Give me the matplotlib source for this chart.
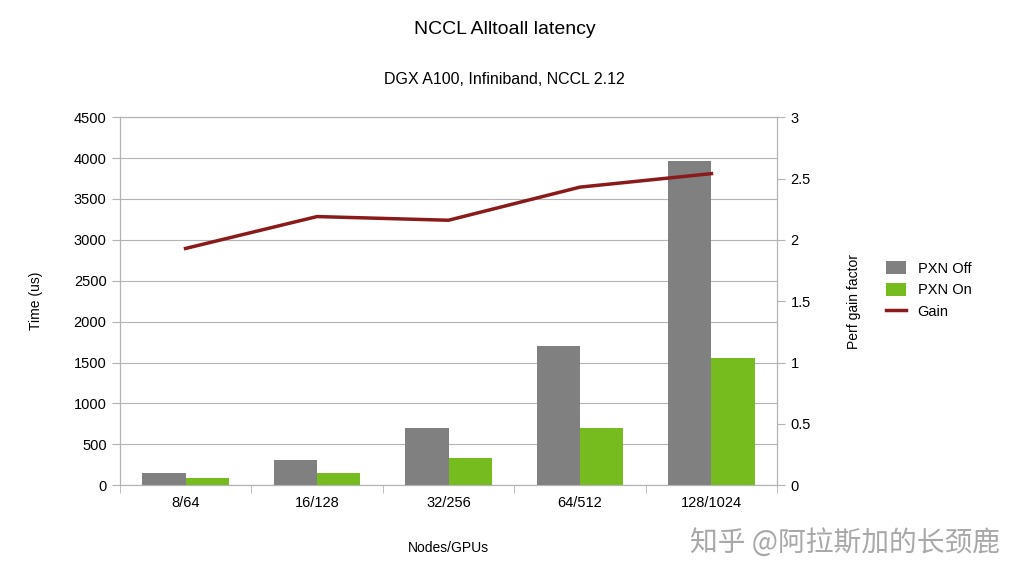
import matplotlib.pyplot as plt
import numpy as np

plt.rcParams["font.family"] = ["Liberation Sans", "Noto Sans CJK SC", "DejaVu Sans"]

categories = ["8/64", "16/128", "32/256", "64/512", "128/1024"]
pxn_off = [150, 310, 700, 1700, 3970]
pxn_on = [85, 150, 330, 700, 1560]
gain = [1.93, 2.19, 2.16, 2.43, 2.54]

fig = plt.figure(figsize=(10.24, 5.86), dpi=100)
ax = fig.add_axes([0.117, 0.172, 0.642, 0.628])
x = np.arange(len(categories))
w = 0.33
ax.bar(x - w / 2, pxn_off, w, color="#808080", label="PXN Off", zorder=3)
ax.bar(x + w / 2, pxn_on, w, color="#77bc1f", label="PXN On", zorder=3)
ax.set_xlim(-0.5, 4.5)
ax.set_ylim(0, 4500)
ax.set_yticks(range(0, 4501, 500))
ax.yaxis.grid(True, color="#b3b3b3", lw=0.8, zorder=0)
ax.set_xticks(x)
ax.set_xticklabels(categories)
ax.set_xticks(np.arange(-0.5, 5, 1), minor=True)
ax.tick_params(axis="x", which="major", length=0, pad=8)
ax.tick_params(axis="x", which="minor", length=6, color="#b3b3b3")
ax.tick_params(axis="y", length=6, color="#b3b3b3")
for s in ax.spines.values():
    s.set_color("#b3b3b3")
ax.set_xlabel("Nodes/GPUs", fontsize=10, labelpad=22)
ax.set_ylabel("Time (us)", fontsize=10, labelpad=22)

ax2 = ax.twinx()
ax2.plot(x, gain, color="#8b1a1a", lw=2.5, label="Gain", zorder=4)
ax2.set_ylim(0, 3)
ax2.set_yticks([0, 0.5, 1, 1.5, 2, 2.5, 3])
ax2.set_yticklabels(["0", "0.5", "1", "1.5", "2", "2.5", "3"])
ax2.tick_params(axis="y", length=6, color="#b3b3b3")
for s in ax2.spines.values():
    s.set_color("#b3b3b3")
ax2.set_ylabel("Perf gain factor", fontsize=10, labelpad=26)

for a in (ax, ax2):
    a.tick_params(labelsize=10.5)

h1, l1 = ax.get_legend_handles_labels()
h2, l2 = ax2.get_legend_handles_labels()
fig.legend(h1 + h2, l1 + l2, loc="center left", bbox_to_anchor=(0.852, 0.505),
           frameon=False, fontsize=10.5, handlelength=1.4, handleheight=1.0)

fig.text(0.493, 0.95, "NCCL Alltoall latency", ha="center", va="center", fontsize=14)
fig.text(0.493, 0.865, "DGX A100, Infiniband, NCCL 2.12", ha="center", va="center", fontsize=11.5)
fig.text(0.977, 0.073, "知乎 @阿拉斯加的长颈鹿", ha="right", va="center", fontsize=20,
         color="#a8a8a8", family=["Noto Sans CJK SC", "DejaVu Sans"])

fig.savefig("out.png", dpi=100)
